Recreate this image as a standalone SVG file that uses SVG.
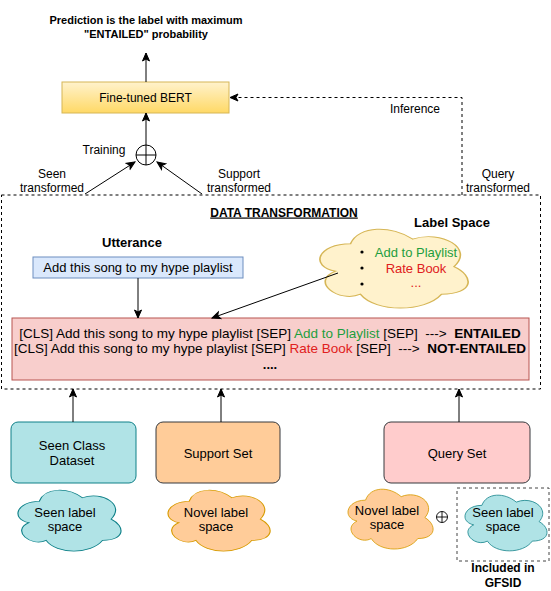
<svg xmlns="http://www.w3.org/2000/svg" width="551" height="591" viewBox="0 0 551 591">
<defs>
<linearGradient id="gBert" x1="0" y1="0" x2="0" y2="1">
<stop offset="0" stop-color="#fff2cc"/>
<stop offset="1" stop-color="#ffd966"/>
</linearGradient>
<marker id="arr" markerUnits="userSpaceOnUse" markerWidth="10" markerHeight="10" viewBox="0 0 10 10" refX="9" refY="5" orient="auto">
<path d="M1,1.5 L9,5 L1,8.5 L3,5 Z" fill="#000" stroke="#000" stroke-width="1"/>
</marker>
<path id="cloudShape" d="M25 25 C5 25 0 50 16 55 C0 66 18 90 31 80 C40 100 70 100 80 80 C100 80 100 60 87.5 50 C100 30 80 10 62.5 20 C50 5 30 5 25 25 Z"/>
</defs>
<style>
text { font-family: "Liberation Sans", Arial, sans-serif; fill: #000; }
.t11b { font-size: 11px; font-weight: bold; }
.t12 { font-size: 12px; }
.t12b { font-size: 12px; font-weight: bold; }
.t13 { font-size: 13px; }
.t13b { font-size: 13px; font-weight: bold; }
.t135 { font-size: 13.5px; }
.mid { text-anchor: middle; }
.pre { white-space: pre; }
.line { fill: none; stroke: #000; stroke-width: 1; }
.dash { fill: none; stroke: #000; stroke-width: 1; stroke-dasharray: 3 3; }
.cloud { vector-effect: non-scaling-stroke; stroke-width: 1; }
.green { fill: #1e9e3e; }
.red { fill: #e02020; }
</style>

<g id="title">
<text class="t11b mid" x="146" y="23.5">Prediction is the label with maximum</text>
<text class="t11b mid" x="146" y="37.5">"ENTAILED" probability</text>
</g>

<g id="bert">
<rect x="62" y="82" width="167" height="31" fill="url(#gBert)" stroke="#d6b656"/>
<text class="t12 mid" x="145.5" y="102">Fine-tuned BERT</text>
</g>

<g id="combine">
<circle cx="146" cy="155" r="10" fill="#fff" stroke="#000"/>
<line x1="136" y1="155" x2="156" y2="155" stroke="#000"/>
<line x1="146" y1="145" x2="146" y2="165" stroke="#000"/>
<text class="t12 mid" x="104" y="154">Training</text>
</g>

<g id="data-transformation">
<rect x="1.5" y="195" width="539" height="194" class="dash"/>
<text class="t12b mid" x="284" y="216.5" text-decoration="underline">DATA TRANSFORMATION</text>
</g>

<g id="utterance">
<text class="t13b mid" x="132" y="246.5">Utterance</text>
<rect x="33" y="257" width="210" height="21" fill="#dae8fc" stroke="#6c8ebf"/>
<text class="t13 mid" x="138" y="271.5">Add this song to my hype playlist</text>
</g>

<g id="label-space">
<text class="t13b mid" x="452" y="226.5">Label Space</text>
<use href="#cloudShape" class="cloud" fill="#fff2cc" stroke="#d6b656" transform="translate(309.2,220.7) scale(1.654,0.919)"/>
<circle cx="362" cy="252" r="1.6" fill="#000"/>
<circle cx="362" cy="268" r="1.6" fill="#000"/>
<circle cx="362" cy="284" r="1.6" fill="#000"/>
<text class="t13 mid green" x="416" y="256.5">Add to Playlist</text>
<text class="t13 mid red" x="416" y="272.5">Rate Book</text>
<text class="t13 mid red" x="416" y="287">...</text>
</g>

<g id="pairs">
<rect x="12" y="318" width="517" height="62" fill="#f8cecc" stroke="#b85450"/>
<text class="t135 mid pre" x="270" y="337.5">[CLS] Add this song to my hype playlist [SEP] <tspan class="green">Add to Playlist</tspan> [SEP]  ---&gt;  <tspan font-weight="bold">ENTAILED</tspan></text>
<text class="t135 mid pre" x="270" y="352.5">[CLS] Add this song to my hype playlist [SEP] <tspan class="red">Rate Book</tspan> [SEP]  ---&gt;  <tspan font-weight="bold">NOT-ENTAILED</tspan></text>
<text class="t13b mid" x="270" y="369">....</text>
</g>

<g id="seen-class-dataset">
<rect x="11" y="422" width="125" height="61" rx="7" fill="#b0e3e6" stroke="#0e8088"/>
<text class="t13 mid" x="72" y="449.5">Seen Class</text>
<text class="t13 mid" x="72" y="465">Dataset</text>
</g>

<g id="support-set">
<rect x="156" y="422" width="124" height="61" rx="7" fill="#ffcc99" stroke="#36393d"/>
<text class="t13 mid" x="218" y="458">Support Set</text>
</g>

<g id="query-set">
<rect x="384" y="422" width="146" height="61" rx="7" fill="#ffcccc" stroke="#36393d"/>
<text class="t13 mid" x="457" y="458">Query Set</text>
</g>

<g id="seen-label-space">
<use href="#cloudShape" class="cloud" fill="#b0e3e6" stroke="#0e8088" transform="translate(10.5,483.6) scale(1.15,0.71)"/>
<text class="t13 mid" x="65" y="516.5">Seen label</text>
<text class="t13 mid" x="65" y="531">space</text>
</g>

<g id="support-novel-label-space">
<use href="#cloudShape" class="cloud" fill="#ffcc99" stroke="#d79b00" transform="translate(160.6,483.6) scale(1.14,0.71)"/>
<text class="t13 mid" x="216" y="516.5">Novel label</text>
<text class="t13 mid" x="216" y="531">space</text>
</g>

<g id="query-novel-label-space">
<use href="#cloudShape" class="cloud" fill="#ffcc99" stroke="#d79b00" transform="translate(341.8,482.7) scale(0.95,0.698)"/>
<text class="t13 mid" x="387" y="514.5">Novel label</text>
<text class="t13 mid" x="387" y="529">space</text>
</g>

<g id="query-plus">
<circle cx="442" cy="517" r="5.5" fill="none" stroke="#000" stroke-width="0.9"/>
<line x1="436.5" y1="517" x2="447.5" y2="517" stroke="#000" stroke-width="0.9"/>
<line x1="442" y1="511.5" x2="442" y2="522.5" stroke="#000" stroke-width="0.9"/>
</g>

<g id="gfsid">
<rect x="457" y="488" width="92" height="73" fill="none" stroke="#444" stroke-dasharray="3 3"/>
<use href="#cloudShape" class="cloud" fill="#b0e3e6" stroke="#0e8088" transform="translate(459,489.1) scale(0.916,0.65)"/>
<text class="t13 mid" x="503" y="516.5">Seen label</text>
<text class="t13 mid" x="503" y="531">space</text>
<text class="t12b mid" x="503" y="572">Included in</text>
<text class="t12b mid" x="503" y="587">GFSID</text>
</g>

<g id="connectors">
<line class="line" x1="146" y1="82" x2="146" y2="53" marker-end="url(#arr)"/>
<line class="line" x1="146" y1="145" x2="146" y2="113" marker-end="url(#arr)"/>
<line class="line" x1="85" y1="194" x2="135" y2="162" marker-end="url(#arr)"/>
<line class="line" x1="202" y1="194" x2="157" y2="162" marker-end="url(#arr)"/>
<polyline class="dash" points="462,195 462,97.5 230,97.5" marker-end="url(#arr)"/>
<line class="line" x1="138" y1="278" x2="138" y2="318" marker-end="url(#arr)"/>
<line class="line" x1="338" y1="273" x2="212" y2="318" marker-end="url(#arr)"/>
<line class="line" x1="73" y1="422" x2="73" y2="389" marker-end="url(#arr)"/>
<line class="line" x1="221" y1="422" x2="221" y2="389" marker-end="url(#arr)"/>
<line class="line" x1="459" y1="422" x2="459" y2="389" marker-end="url(#arr)"/>
<text class="t12 mid" x="52" y="177.5">Seen</text>
<text class="t12 mid" x="52" y="191.5">transformed</text>
<text class="t12 mid" x="239" y="177.5">Support</text>
<text class="t12 mid" x="239" y="191.5">transformed</text>
<text class="t12 mid" x="415" y="112.5">Inference</text>
<text class="t12 mid" x="498" y="177.5">Query</text>
<text class="t12 mid" x="498" y="191.5">transformed</text>
</g>
</svg>
